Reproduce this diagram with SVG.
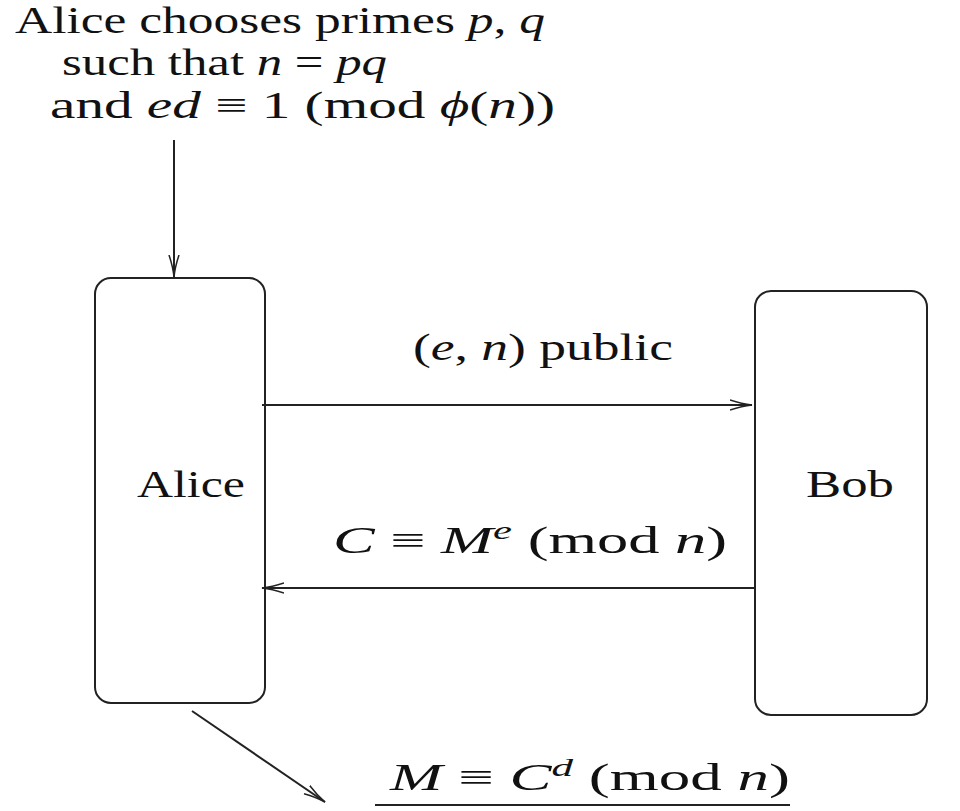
<svg xmlns="http://www.w3.org/2000/svg" width="960" height="811" viewBox="0 0 960 811">
<style>
text{font-family:"Liberation Serif","DejaVu Serif",serif;font-size:38px;fill:#111}
.i{font-style:italic}
.box{fill:none;stroke:#222;stroke-width:2}
.c{stroke:#222;stroke-width:2;fill:none}
</style>
<defs>
<marker id="a" markerWidth="24" markerHeight="12" refX="22" refY="6" orient="auto" markerUnits="userSpaceOnUse">
<path d="M0,1 Q12,5 22,6 Q12,7 0,11" fill="none" stroke="#222" stroke-width="1.5"/>
</marker>
</defs>
<rect width="960" height="811" fill="#fff"/>
<g id="top-label">
<text x="15" y="33" textLength="530" lengthAdjust="spacingAndGlyphs">Alice chooses primes <tspan class="i">p</tspan>, <tspan class="i">q</tspan></text>
<text x="62" y="75" textLength="325" lengthAdjust="spacingAndGlyphs">such that <tspan class="i">n</tspan> = <tspan class="i">pq</tspan></text>
<text x="50" y="118" textLength="505" lengthAdjust="spacingAndGlyphs">and <tspan class="i">ed</tspan> ≡ 1 (mod <tspan class="i">ϕ</tspan>(<tspan class="i">n</tspan>))</text>
</g>
<g id="alice">
<rect class="box" x="95" y="278" width="170" height="425" rx="16"/>
<text x="137" y="497" textLength="108" lengthAdjust="spacingAndGlyphs">Alice</text>
</g>
<g id="bob">
<rect class="box" x="755" y="291" width="172" height="424" rx="16"/>
<text x="806" y="497" textLength="88" lengthAdjust="spacingAndGlyphs">Bob</text>
</g>
<g id="connectors">
<line class="c" x1="174" y1="140" x2="174" y2="277" marker-end="url(#a)"/>
<line class="c" x1="262" y1="405" x2="752" y2="405" marker-end="url(#a)"/>
<line class="c" x1="755" y1="588" x2="262" y2="588" marker-end="url(#a)"/>
<line class="c" x1="192" y1="711" x2="325" y2="802" marker-end="url(#a)"/>
</g>
<g id="labels">
<text x="413" y="360" textLength="260" lengthAdjust="spacingAndGlyphs">(<tspan class="i">e</tspan>, <tspan class="i">n</tspan>) public</text>
<text x="333" y="553" textLength="394" lengthAdjust="spacingAndGlyphs"><tspan class="i">C</tspan> ≡ <tspan class="i">M</tspan><tspan class="i" font-size="26" dy="-14">e</tspan><tspan dy="14"> (mod </tspan><tspan class="i">n</tspan>)</text>
<text x="390" y="790" textLength="400" lengthAdjust="spacingAndGlyphs"><tspan class="i">M</tspan> ≡ <tspan class="i">C</tspan><tspan class="i" font-size="26" dy="-14">d</tspan><tspan dy="14"> (mod </tspan><tspan class="i">n</tspan>)</text>
<line x1="375" y1="805" x2="790" y2="805" stroke="#222" stroke-width="2"/>
</g>
</svg>
